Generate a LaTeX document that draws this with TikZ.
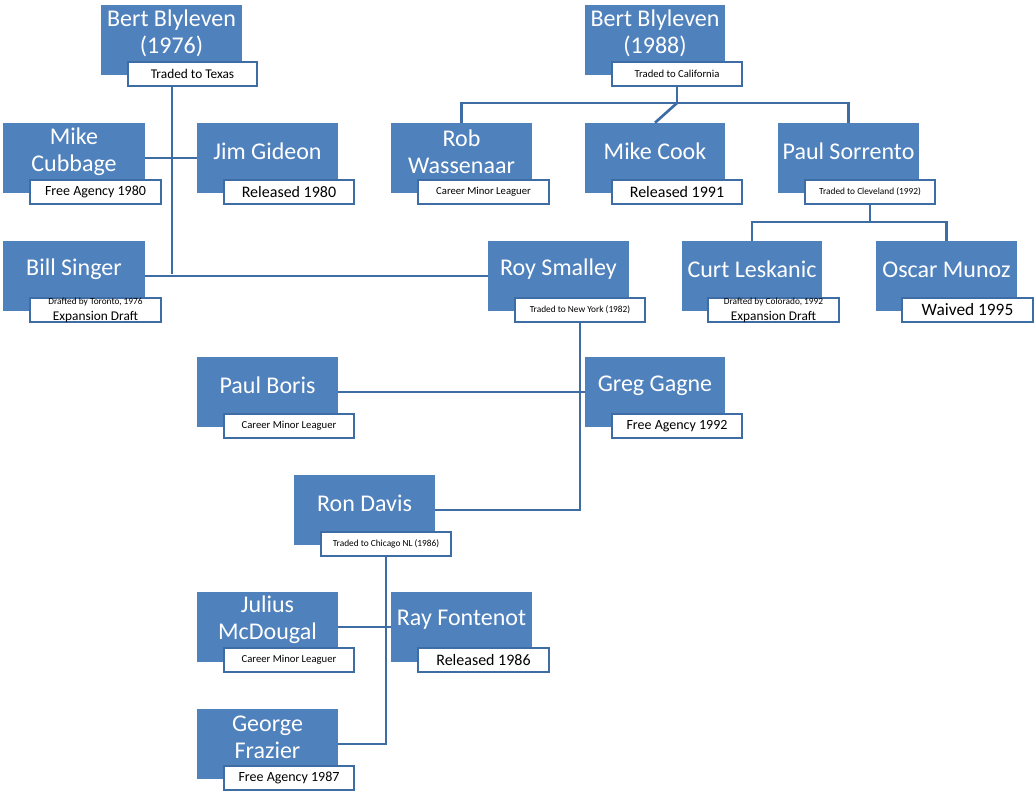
\documentclass[tikz,border=0pt]{standalone}
\usepackage{fontspec}
\setmainfont{Carlito}
\definecolor{bblue}{HTML}{4F81BD}
\definecolor{lblue}{HTML}{3E6DA6}
\tikzset{
 pb/.style={fill=bblue, draw=none, inner sep=0pt},
 nm/.style={text=white, align=center, font=\fontsize{18}{20}\selectfont, inner sep=0pt},
 lb/.style={fill=white, draw=lblue, line width=1.5pt, inner sep=0pt, align=center},
 con/.style={draw=lblue, line width=2pt}
}
% #1 id, #2-#5 blue box x1 y1 x2 y2, #6 name, #7 label x1, #8 label x2, #9 label y1 ; label y2 = y1+24
\newcommand\pperson[9]{%
 \node[pb, minimum width={(#4-#2)*0.75pt}, minimum height={(#5-#3)*0.75pt}] (#1) at ({(#2+#4)/2},{(#3+#5)/2}) {};
 \node[nm] (#1t) at ({(#2+#4)/2},{(#3+#9)/2}) {#6};
 \coordinate (#1a) at (#7,#9); \coordinate (#1b) at (#8,#9+24);
}
\newcommand\plabel[5]{% id, x1, x2, y1, text with font
 \node[lb, minimum width={(#3-#2)*0.75pt}, minimum height={24*0.75pt}] (#1) at ({(#2+#3)/2},{#4+12}) {#5};
}
\begin{document}
\begin{tikzpicture}[x=0.75pt,y=-0.75pt]
\useasboundingbox (0,0) rectangle (1035,794);
\newcommand\fA{\fontsize{10}{11}\selectfont}
\newcommand\fB{\fontsize{12}{13}\selectfont}
\newcommand\fC{\fontsize{8}{9}\selectfont}
\newcommand\fD{\fontsize{7}{7.6}\selectfont}
\newcommand\fE{\fontsize{10.5}{12}\selectfont}
% connectors first
\coordinate (j1) at (172,274);
\draw[con] (172,87) -- (j1);
\pperson{b76}{101}{5}{242}{75}{Bert Blyleven\\(1976)}{128}{257}{62}
\pperson{b88}{585}{5}{725}{75}{Bert Blyleven\\(1988)}{612}{742}{62}
\pperson{mc}{3}{123}{145}{193}{Mike\\Cubbage}{30}{161}{180}
\pperson{jg}{197}{123}{338}{193}{Jim Gideon}{224}{354}{180}
\pperson{rw}{391}{123}{532}{193}{Rob\\Wassenaar}{418}{549}{180}
\pperson{mk}{585}{123}{725}{193}{Mike Cook}{612}{742}{180}
\pperson{ps}{778}{123}{919}{193}{Paul Sorrento}{805}{935}{180}
\pperson{bs}{3}{241}{145}{311}{Bill Singer}{30}{161}{298}
\pperson{rs}{488}{241}{629}{311}{Roy Smalley}{515}{645}{298}
\pperson{cl}{682}{241}{822}{311}{Curt Leskanic}{708}{839}{298}
\pperson{om}{876}{241}{1017}{311}{Oscar Munoz}{902}{1033}{298}
\pperson{pb}{197}{357}{338}{427}{Paul Boris}{224}{354}{414}
\pperson{gg}{585}{357}{725}{427}{Greg Gagne}{612}{742}{414}
\pperson{rd}{294}{475}{435}{545}{Ron Davis}{321}{451}{532}
\pperson{jm}{197}{592}{338}{662}{Julius\\McDougal}{224}{354}{648}
\pperson{rf}{391}{592}{532}{662}{Ray Fontenot}{418}{549}{648}
\pperson{gf}{197}{709}{338}{779}{George\\Frazier}{224}{354}{766}
\plabel{b76l}{128}{257}{62}{\fA Traded to Texas}
\plabel{b88l}{612}{742}{62}{\fC Traded to California}
\plabel{mcl}{30}{161}{180}{\fE Free Agency 1980}
\plabel{jgl}{224}{354}{180}{\fB Released 1980}
\plabel{rwl}{418}{549}{180}{\fC Career Minor Leaguer}
\plabel{mkl}{612}{742}{180}{\fB Released 1991}
\plabel{psl}{805}{935}{180}{\fD Traded to Cleveland (1992)}
\plabel{bsl}{30}{161}{298}{\fD Drafted by Toronto, 1976\\Expansion Draft}
\plabel{rsl}{515}{645}{298}{\fD Traded to New York (1982)}
\plabel{cll}{708}{839}{298}{\fD Drafted by Colorado, 1992\\Expansion Draft}
\plabel{oml}{902}{1033}{298}{\fontsize{13}{14}\selectfont Waived 1995}
\plabel{pbl}{224}{354}{414}{\fC Career Minor Leaguer}
\plabel{ggl}{612}{742}{414}{\fE Free Agency 1992}
\plabel{rdl}{321}{451}{532}{\fD Traded to Chicago NL (1986)}
\plabel{jml}{224}{354}{648}{\fC Career Minor Leaguer}
\plabel{rfl}{418}{549}{648}{\fB Released 1986}
\plabel{gfl}{224}{354}{766}{\fE Free Agency 1987}
% connectors
\draw[con] (mc.east) -- (jg.west);
\draw[con] (bs.east) -- (rs.west);
\draw[con] (b88l.south) -- ++(0,16) coordinate (k1);
\draw[con] (rw.north) |- (k1) -| (ps.north);
\draw[con] (k1) -- (mk.north);
\draw[con] (psl.south) -- ++(0,17) coordinate (k2);
\draw[con] (cl.north) |- (k2) -| (om.north);
\draw[con] (rsl.south) |- (rd.east);
\draw[con] (pb.east) -- (gg.west);
\draw[con] (rdl.south) |- (gf.east);
\draw[con] (jm.east) -- (rf.west);
\end{tikzpicture}
\end{document}
